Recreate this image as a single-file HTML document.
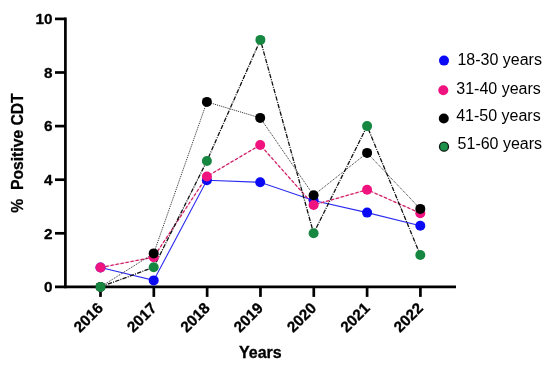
<!DOCTYPE html><html><head><meta charset="utf-8"><title>% Positive CDT by Years</title>
<style>html,body{margin:0;padding:0;background:#fff;}svg{display:block;}text{font-family:"Liberation Sans",Arial,sans-serif;}</style></head><body>
<svg width="550" height="373" viewBox="0 0 550 373">
<rect width="550" height="373" fill="#fff"/>
<polyline points="100.5,267.5 153.7,280.4 206.9,180.3 260.2,182.3 313.6,200.5 367.1,212.6 420.3,225.8" fill="none" stroke="#2a2af0" stroke-width="1.1"/>
<polyline points="100.5,267.5 153.7,257.2 206.9,176.5 260.2,145.0 313.6,205.0 367.1,189.7 420.3,213.2" fill="none" stroke="#f0127e" stroke-width="1" opacity="0.3"/>
<polyline points="100.5,267.5 153.7,257.2 206.9,176.5 260.2,145.0 313.6,205.0 367.1,189.7 420.3,213.2" fill="none" stroke="#cf2466" stroke-width="1.3" stroke-dasharray="3.2 1.9"/>
<polyline points="100.5,286.9 153.7,253.4 206.9,101.9 260.2,117.9 313.6,195.3 367.1,152.9 420.3,208.9" fill="none" stroke="#111" stroke-width="0.9" stroke-dasharray="1 1"/>
<polyline points="100.5,286.9 153.7,267.3 206.9,161.0 260.4,39.9 313.6,233.3 367.1,126.1 420.3,255.0" fill="none" stroke="#111" stroke-width="1.3" stroke-dasharray="4.4 1.2 1 1.2"/>
<g stroke="#000" stroke-width="2.7" fill="none" stroke-linecap="butt">
<path d="M65.4 17.55 V288.25"/>
<path d="M55.0 286.9 H456.0"/>
<path d="M55.0 233.3 H65.4"/>
<path d="M55.0 179.7 H65.4"/>
<path d="M55.0 126.1 H65.4"/>
<path d="M55.0 72.5 H65.4"/>
<path d="M55.0 18.9 H65.4"/>
<path d="M100.5 286.9 V296.9"/>
<path d="M153.82 286.9 V296.9"/>
<path d="M207.14 286.9 V296.9"/>
<path d="M260.46 286.9 V296.9"/>
<path d="M313.78 286.9 V296.9"/>
<path d="M367.1 286.9 V296.9"/>
<path d="M420.42 286.9 V296.9"/>
</g>
<circle cx="100.5" cy="267.5" r="5.0" fill="#0a0af5"/><circle cx="153.7" cy="280.4" r="5.0" fill="#0a0af5"/><circle cx="206.9" cy="180.3" r="5.0" fill="#0a0af5"/><circle cx="260.2" cy="182.3" r="5.0" fill="#0a0af5"/><circle cx="313.6" cy="200.5" r="5.0" fill="#0a0af5"/><circle cx="367.1" cy="212.6" r="5.0" fill="#0a0af5"/><circle cx="420.3" cy="225.8" r="5.0" fill="#0a0af5"/>
<circle cx="100.5" cy="267.5" r="5.0" fill="#f0127e"/><circle cx="153.7" cy="257.2" r="5.0" fill="#f0127e"/><circle cx="206.9" cy="176.5" r="5.0" fill="#f0127e"/><circle cx="260.2" cy="145.0" r="5.0" fill="#f0127e"/><circle cx="313.6" cy="205.0" r="5.0" fill="#f0127e"/><circle cx="367.1" cy="189.7" r="5.0" fill="#f0127e"/><circle cx="420.3" cy="213.2" r="5.0" fill="#f0127e"/>
<circle cx="100.5" cy="286.9" r="5.0" fill="#000"/><circle cx="153.7" cy="253.4" r="5.0" fill="#000"/><circle cx="206.9" cy="101.9" r="5.0" fill="#000"/><circle cx="260.2" cy="117.9" r="5.0" fill="#000"/><circle cx="313.6" cy="195.3" r="5.0" fill="#000"/><circle cx="367.1" cy="152.9" r="5.0" fill="#000"/><circle cx="420.3" cy="208.9" r="5.0" fill="#000"/>
<circle cx="100.5" cy="286.9" r="5.0" fill="#168740"/><circle cx="153.7" cy="267.3" r="5.0" fill="#168740"/><circle cx="206.9" cy="161.0" r="5.0" fill="#168740"/><circle cx="260.4" cy="39.9" r="5.0" fill="#168740"/><circle cx="313.6" cy="233.3" r="5.0" fill="#168740"/><circle cx="367.1" cy="126.1" r="5.0" fill="#168740"/><circle cx="420.3" cy="255.0" r="5.0" fill="#168740"/>
<g font-weight="bold" font-size="16" fill="#000" stroke="#000" stroke-width="0.3">
<text x="52.6" y="292.2" text-anchor="end" font-size="15.3">0</text>
<text x="52.6" y="238.6" text-anchor="end" font-size="15.3">2</text>
<text x="52.6" y="185.0" text-anchor="end" font-size="15.3">4</text>
<text x="52.6" y="131.4" text-anchor="end" font-size="15.3">6</text>
<text x="52.6" y="77.8" text-anchor="end" font-size="15.3">8</text>
<text x="52.6" y="24.2" text-anchor="end" font-size="15.3">10</text>
<text transform="translate(104.1 309.1) rotate(-45)" text-anchor="end" font-size="15.3">2016</text>
<text transform="translate(157.42 309.1) rotate(-45)" text-anchor="end" font-size="15.3">2017</text>
<text transform="translate(210.74 309.1) rotate(-45)" text-anchor="end" font-size="15.3">2018</text>
<text transform="translate(264.06 309.1) rotate(-45)" text-anchor="end" font-size="15.3">2019</text>
<text transform="translate(317.38 309.1) rotate(-45)" text-anchor="end" font-size="15.3">2020</text>
<text transform="translate(370.7 309.1) rotate(-45)" text-anchor="end" font-size="15.3">2021</text>
<text transform="translate(424.02 309.1) rotate(-45)" text-anchor="end" font-size="15.3">2022</text>
<text x="260.4" y="358.3" text-anchor="middle">Years</text>
<text transform="translate(22.7 153) rotate(-90)" text-anchor="middle" font-size="15.7" xml:space="preserve">%  Positive CDT</text>
</g>
<circle cx="444" cy="60.6" r="5" fill="#0a0af5"/>
<circle cx="443.3" cy="90.3" r="5" fill="#f0127e"/>
<circle cx="443.8" cy="118.5" r="5" fill="#000"/>
<circle cx="444" cy="146.65" r="4.5" fill="#1b914a" stroke="#0a1a0e" stroke-width="1.3"/>
<g font-size="16" fill="#000">
<text x="457.4" y="65.0">18-30 years</text>
<text x="456.3" y="93.8">31-40 years</text>
<text x="456.2" y="121.0">41-50 years</text>
<text x="457.6" y="148.8">51-60 years</text>
</g>
</svg></body></html>
